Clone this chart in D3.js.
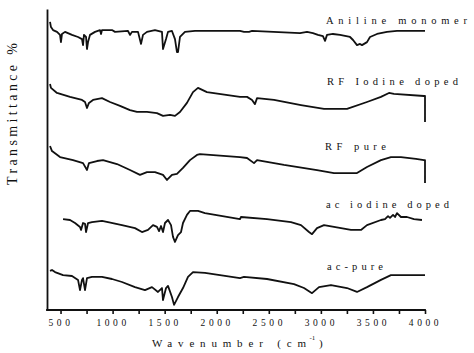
<!DOCTYPE html>
<html>
<head>
<meta charset="utf-8">
<script src="https://cdn.jsdelivr.net/npm/d3@7/dist/d3.min.js"></script>
<style>
html, body { margin: 0; padding: 0; background: #fff; }
svg { display: block; }
svg text { font-family: "Liberation Serif", "DejaVu Serif", serif !important; fill: #111; }
</style>
</head>
<body>
<svg id="chart" width="474" height="353"></svg>
<script>
// Wavenumber (cm-1) / offset transmittance readings, one array per spectrum
const anilineMonomer = [[399,95.7],[408,94.0],[428,93.0],[466,92.4],[495,91.4],[504,89.0],[514,91.7],[543,92.4],[610,91.4],[668,90.7],[706,90.0],[716,88.0],[725,91.4],[745,90.7],[754,86.7],[764,89.0],[783,91.4],[831,92.4],[879,93.0],[889,91.7],[898,93.0],[994,93.0],[1023,92.4],[1148,92.7],[1167,91.4],[1186,92.4],[1244,92.4],[1273,88.4],[1292,91.4],[1330,92.4],[1407,93.0],[1474,92.4],[1484,86.7],[1513,90.0],[1532,92.4],[1570,92.7],[1599,90.0],[1618,85.7],[1628,85.7],[1647,90.7],[1695,92.4],[1791,92.7],[2223,92.7],[2262,92.4],[2310,92.4],[2339,92.7],[2800,92.0],[2867,92.4],[2924,92.0],[2972,91.4],[3020,91.0],[3040,89.4],[3059,91.4],[3116,91.7],[3184,91.4],[3280,90.7],[3309,89.7],[3347,88.0],[3376,88.4],[3395,88.0],[3443,89.0],[3472,90.7],[3539,91.7],[3635,92.4],[3731,92.7],[4000,92.7]];
const rfIodineDoped = [[399,75.1],[408,73.8],[466,72.1],[591,70.8],[706,69.8],[735,69.1],[754,67.1],[773,68.8],[812,69.8],[898,70.4],[975,69.1],[1071,67.8],[1167,66.4],[1234,65.8],[1330,65.8],[1426,65.4],[1484,64.5],[1551,64.8],[1599,64.5],[1647,65.8],[1714,68.8],[1772,72.4],[1820,73.8],[1906,72.4],[2223,70.8],[2291,70.8],[2339,69.8],[2367,68.4],[2387,70.4],[2550,69.8],[2809,68.1],[3030,66.8],[3251,66.8],[3443,69.1],[3577,70.8],[3654,72.1],[3702,71.8],[3990,71.1],[4000,71.1],[4000,62.5]];
const rfPure = [[399,54.5],[418,52.8],[495,50.8],[620,49.8],[716,48.8],[754,46.5],[773,48.8],[850,49.5],[908,49.8],[1042,48.5],[1167,46.5],[1263,44.9],[1330,45.8],[1407,45.8],[1484,44.9],[1522,43.2],[1570,44.9],[1618,45.2],[1676,47.2],[1743,49.8],[1810,51.5],[1839,51.8],[2223,50.8],[2291,50.5],[2358,48.8],[2387,49.8],[2646,48.2],[2963,46.5],[3126,45.5],[3347,45.5],[3443,47.5],[3577,49.8],[3673,50.8],[3769,50.8],[3913,50.2],[3990,49.8],[4000,49.8],[4000,42.2]];
const acIodineDoped = [[524,30.2],[591,29.9],[639,28.9],[687,27.6],[697,26.6],[716,28.9],[735,28.6],[745,25.9],[764,28.9],[802,29.2],[898,29.6],[956,29.2],[1090,28.2],[1215,27.2],[1282,25.9],[1340,26.6],[1388,28.2],[1426,27.6],[1446,26.2],[1465,27.9],[1484,25.9],[1503,28.9],[1532,29.9],[1561,28.2],[1580,24.3],[1599,22.6],[1628,24.9],[1657,25.9],[1676,28.9],[1714,31.6],[1743,32.9],[1820,32.9],[1887,32.2],[2223,30.2],[2233,30.9],[2483,30.2],[2713,29.2],[2809,28.2],[2886,25.9],[2915,25.2],[2963,27.2],[3030,28.2],[3126,27.6],[3289,26.6],[3385,26.6],[3443,28.2],[3577,29.9],[3616,30.2],[3645,31.2],[3664,30.6],[3693,31.6],[3712,30.9],[3731,32.2],[3769,30.9],[3827,30.9],[3894,30.2],[3971,29.9]];
const acPure = [[399,13.0],[418,13.3],[447,12.6],[524,11.6],[610,11.3],[668,10.0],[687,6.6],[706,10.0],[716,10.6],[735,6.6],[754,10.6],[802,11.0],[898,11.0],[994,10.3],[1090,9.3],[1215,7.6],[1311,6.6],[1378,7.6],[1436,6.0],[1474,7.3],[1484,3.3],[1513,7.3],[1532,8.0],[1570,4.3],[1590,1.7],[1628,4.3],[1676,7.3],[1724,11.0],[1772,12.6],[1887,12.3],[2223,10.6],[2262,11.0],[2483,10.3],[2742,8.6],[2838,7.3],[2915,5.6],[2982,7.6],[3097,8.3],[3251,7.3],[3347,6.0],[3443,7.6],[3577,10.0],[3673,11.6],[3731,11.6],[4000,11.6]];

const seriesNames = ["Aniline monomer", "RF Iodine doped", "RF pure", "ac iodine doped", "ac-pure"];
const seriesData = [anilineMonomer, rfIodineDoped, rfPure, acIodineDoped, acPure];
const tickValues = [500, 750, 1000, 1250, 1500, 1750, 2000, 2250, 2500, 2750, 3000, 3250, 3500, 3750, 4000];
const xTitle = "Wavenumber (cm";
const yTitle = "Transmittance %";

const FONT = "'Liberation Serif', 'DejaVu Serif', serif";

// layout
const svg = d3.select("#chart");
const x = d3.scaleLinear().domain([370, 4000]).range([47, 425]);
const y = d3.scaleLinear().domain([0, 100]).range([310, 9]);

// label placement (pixels)
const labelPos = [
  {x: 326, y: 24, w: 141},
  {x: 327, y: 85, w: 131},
  {x: 325, y: 150, w: 61},
  {x: 326, y: 207.5, w: 123},
  {x: 327, y: 270, w: 56}
];

const line = d3.line().x(d => x(d[0])).y(d => y(d[1]));

svg.selectAll("path.spec")
  .data(seriesData)
  .join("path")
  .attr("class", "spec")
  .attr("d", line)
  .attr("fill", "none")
  .attr("stroke", "#111")
  .attr("stroke-width", 1.8)
  .attr("stroke-linejoin", "round");

// x axis
const xAxis = d3.axisBottom(x)
  .tickValues(tickValues)
  .tickSize(4)
  .tickSizeOuter(0)
  .tickPadding(5)
  .tickFormat(d => d % 500 === 0 ? String(d) : "");
const gx = svg.append("g").attr("transform", "translate(0,310)").call(xAxis)
  .attr("font-family", FONT);
gx.select(".domain").attr("stroke", "#111").attr("stroke-width", 1.8).attr("d", "M46.1,0H425.9");
gx.selectAll(".tick line").attr("stroke", "#111").attr("stroke-width", 1.6);
gx.selectAll(".tick text")
  .style("font-family", FONT)
  .attr("font-size", 9.5)
  .style("letter-spacing", "3.6px")
  .attr("fill", "#111");

// y axis (plain line)
const yAxis = d3.axisLeft(y).tickValues([]).tickSizeOuter(0);
const gy = svg.append("g").attr("transform", "translate(47,0)").call(yAxis);
gy.select(".domain").attr("stroke", "#111").attr("stroke-width", 1.8);

// series labels
svg.selectAll("text.slabel")
  .data(seriesNames)
  .join("text")
  .attr("class", "slabel")
  .attr("x", (d, i) => labelPos[i].x)
  .attr("y", (d, i) => labelPos[i].y)
  .attr("textLength", (d, i) => labelPos[i].w)
  .attr("lengthAdjust", "spacing")
  .style("font-family", FONT)
  .attr("font-size", 10.5)
  .text(d => d);

// x title
svg.append("text")
  .attr("x", 152).attr("y", 346.5)
  .attr("textLength", 154).attr("lengthAdjust", "spacing")
  .style("font-family", FONT)
  .attr("font-size", 11)
  .text(xTitle);
svg.append("text")
  .attr("x", 309.5).attr("y", 340)
  .style("font-family", FONT)
  .attr("font-size", 7)
  .text("-1");
svg.append("text")
  .attr("x", 319).attr("y", 346.5)
  .style("font-family", FONT)
  .attr("font-size", 11)
  .text(")");

// y title
svg.append("text")
  .attr("transform", "translate(16.5,185) rotate(-90)")
  .attr("textLength", 142).attr("lengthAdjust", "spacing")
  .style("font-family", FONT)
  .attr("font-size", 14)
  .text(yTitle);
</script>
</body>
</html>
